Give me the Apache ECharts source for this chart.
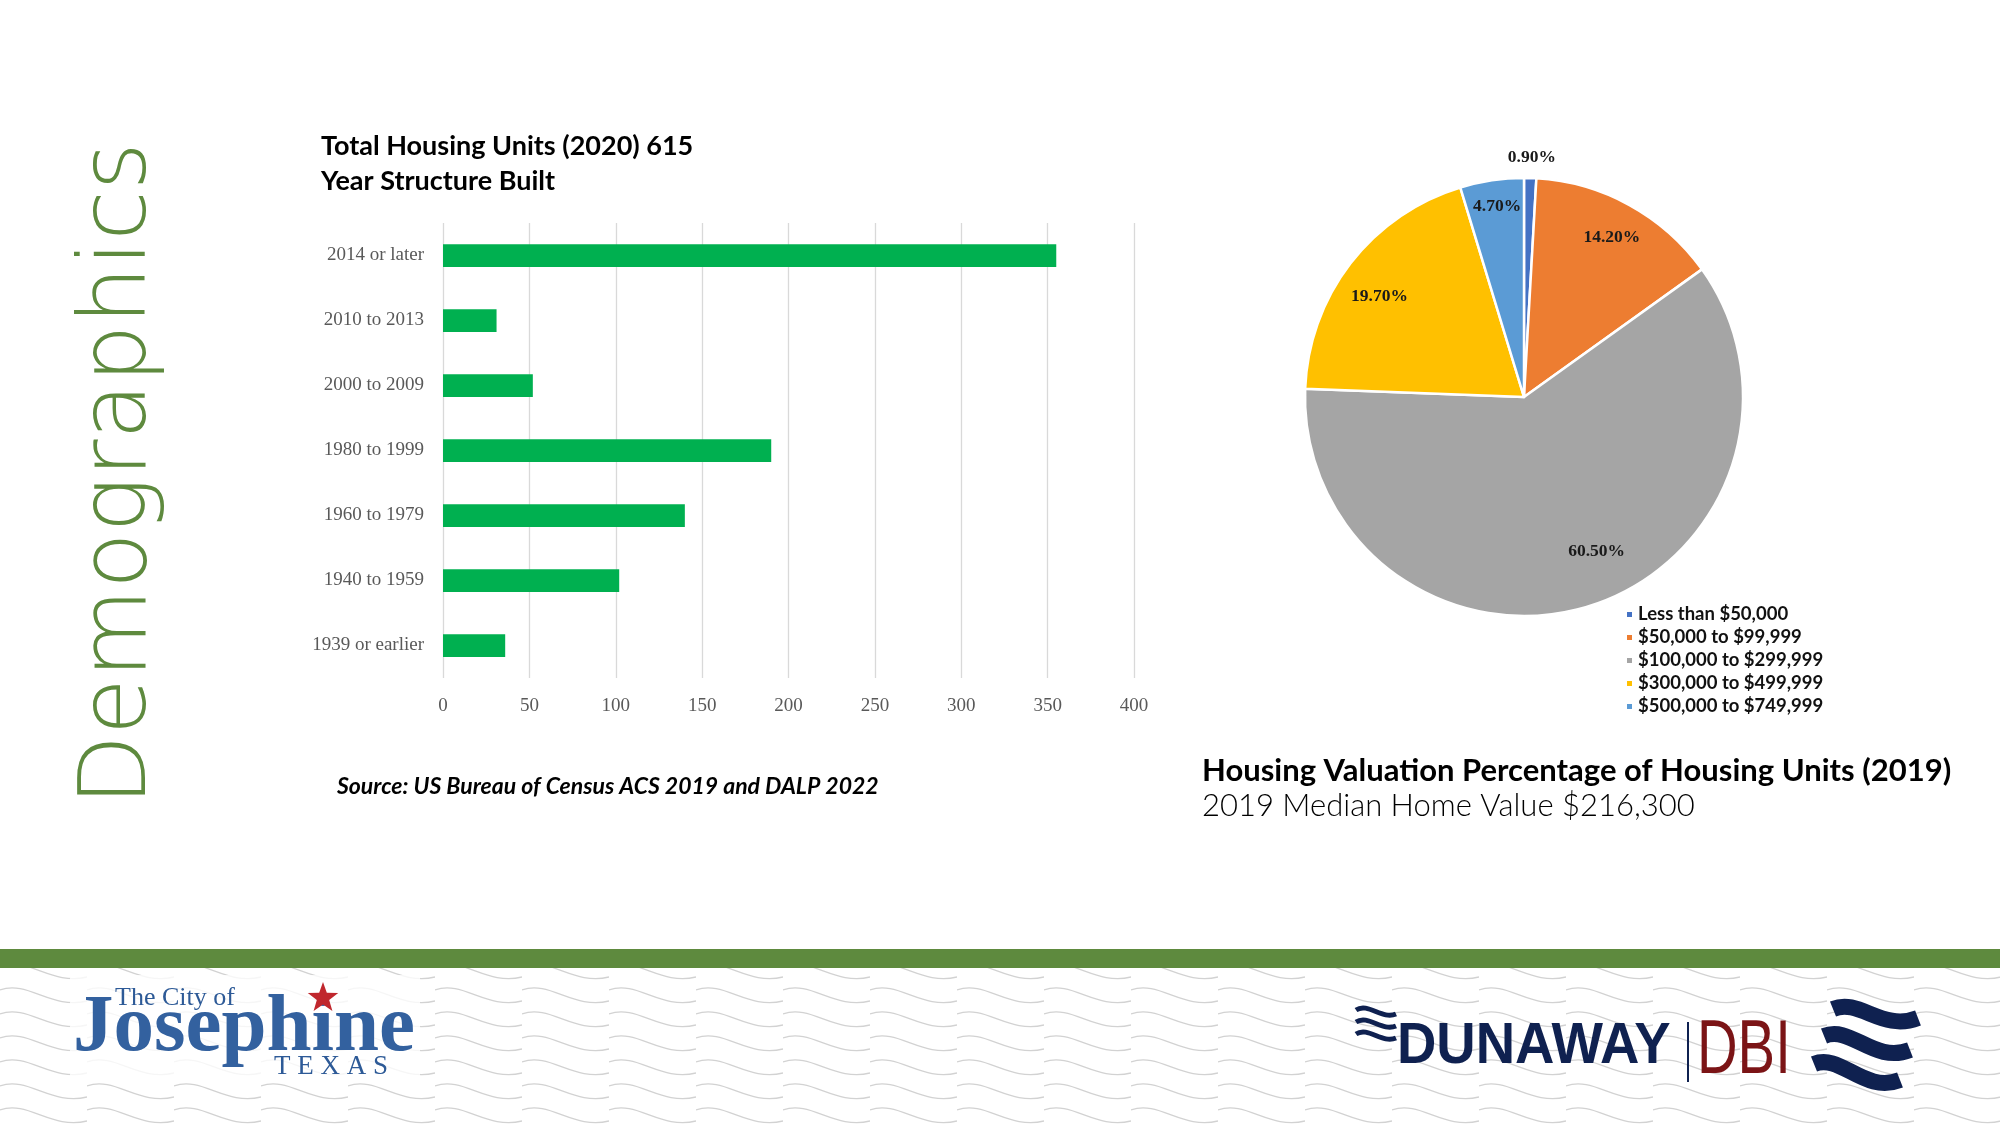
<!DOCTYPE html>
<html>
<head>
<meta charset="utf-8">
<title>Demographics</title>
<script src="https://cdn.jsdelivr.net/npm/echarts@6/dist/echarts.min.js"></script>
<style>
  html, body { margin: 0; padding: 0; background: #fff; }
  #main { width: 2000px; height: 1125px; }
</style>
</head>
<body>
<div id="main"></div>
<script>
// year structure built (housing units)
var yearCats = ['2014 or later', '2010 to 2013', '2000 to 2009', '1980 to 1999', '1960 to 1979', '1940 to 1959', '1939 or earlier']
var yearUnits = [355, 31, 52, 190, 140, 102, 36]
var unitMin = 0, unitMax = 400, unitStep = 50

// housing valuation, % of units (2019)
var valueBands = ['Less than $50,000', '$50,000 to $99,999', '$100,000 to $299,999', '$300,000 to $499,999', '$500,000 to $749,999']
var valueShares = [0.9, 14.2, 60.5, 19.7, 4.7]
var bandColors = ['#4472C4', '#ED7D31', '#A5A5A5', '#FFC000', '#5B9BD5']

var green = '#5E8A3E'
var navy = '#0F2150'

// footer wave pattern tile
var tile = document.createElement('canvas')
tile.width = 87
tile.height = 24
var g = tile.getContext('2d')
g.strokeStyle = '#d2d2d2'
g.lineWidth = 1.3
;[-24, 0, 24].forEach(function (o) {
    g.beginPath()
    g.moveTo(0, 6 + o)
    g.bezierCurveTo(28, -4 + o, 52, 26 + o, 87, 17 + o)
    g.stroke()
})

var starPoints = function (cx, cy, r1, r2) {
    var pts = []
    for (var i = 0; i < 10; i++) {
        var a = -Math.PI / 2 + i * Math.PI / 5
        var r = i % 2 ? r2 : r1
        pts.push([cx + r * Math.cos(a), cy + r * Math.sin(a)])
    }
    return pts
}

var pieMain = valueBands.map(function (n, i) {
    var item = { name: n, value: valueShares[i], itemStyle: { color: bandColors[i] } }
    if (i === 0) {
        item.label = { show: true, position: 'outside' }
        item.labelLine = { show: false, length: 21, length2: 0 }
    }
    return item
})
var pieLabels = valueBands.map(function (n, i) {
    var item = { name: n, value: valueShares[i] }
    if (i === 0) item.label = { show: false }
    return item
})
// small nudges so the inner labels sit where Excel's best fit put them
var labelNudge = [[0, 0], [0, 0], [20, -20], [0, 11], [0, -10]]

var pctLabel = {
    fontFamily: 'Liberation Serif',
    fontWeight: 'bold',
    fontSize: 17.5,
    color: '#1a1a1a',
    formatter: function (p) { return p.value.toFixed(2) + '%' }
}

var serifLabel = { fontFamily: 'Liberation Serif', fontSize: 19, color: '#595959' }

var myChart = echarts.init(document.getElementById('main'))
var options = {
    animation: false,
    grid: { left: 443, top: 223, width: 691, height: 455 },
    xAxis: {
        type: 'value',
        min: unitMin,
        max: unitMax,
        interval: unitStep,
        axisLine: { show: false },
        axisTick: { show: false },
        splitLine: { lineStyle: { color: '#d9d9d9', width: 1.3 } },
        axisLabel: Object.assign({ margin: 19 }, serifLabel)
    },
    yAxis: {
        type: 'category',
        data: yearCats,
        inverse: true,
        axisLine: { show: false },
        axisTick: { show: false },
        axisLabel: Object.assign({ margin: 19 }, serifLabel)
    },
    legend: {
        orient: 'vertical',
        left: 1620,
        top: 598,
        icon: 'rect',
        itemWidth: 7,
        itemHeight: 7,
        itemGap: 0,
        selectedMode: false,
        data: valueBands,
        textStyle: { fontFamily: 'Lato', fontWeight: 'bold', fontSize: 18.5, color: '#111', lineHeight: 23 }
    },
    series: [
        {
            name: 'Year Structure Built',
            type: 'bar',
            barWidth: '35%',
            data: yearUnits,
            itemStyle: { color: '#00B050' }
        },
        {
            name: 'Housing Valuation',
            type: 'pie',
            center: [1524, 397],
            radius: 219,
            startAngle: 90,
            itemStyle: { borderColor: '#fff', borderWidth: 2.5 },
            label: Object.assign({ show: false }, pctLabel),
            labelLine: { show: false },
            labelLayout: function (p) {
                if (p.dataIndex === 0) return { dx: -28 }
            },
            data: pieMain
        },
        {
            // transparent twin that only carries the inner labels
            name: 'labels',
            type: 'pie',
            silent: true,
            center: [1524, 397],
            radius: 359,
            startAngle: 90,
            itemStyle: { color: 'rgba(0,0,0,0)' },
            label: Object.assign({ show: true, position: 'inside' }, pctLabel),
            labelLine: { show: false },
            labelLayout: function (p) {
                var n = labelNudge[p.dataIndex]
                return { dx: n[0], dy: n[1] }
            },
            data: pieLabels
        }
    ],
    graphic: [
        {
            type: 'text', x: 121, y: 474, rotation: Math.PI / 2,
            style: { text: 'Demographics', fontFamily: 'DejaVu Sans', fontWeight: 200, fontSize: 92, fill: green, align: 'center', verticalAlign: 'middle' }
        },
        {
            type: 'text', x: 321, y: 146,
            style: { text: 'Total Housing Units (2020) 615', fontFamily: 'Lato', fontWeight: 'bold', fontSize: 27, fill: '#000', verticalAlign: 'middle' }
        },
        {
            type: 'text', x: 321, y: 181,
            style: { text: 'Year Structure Built', fontFamily: 'Lato', fontWeight: 'bold', fontSize: 27, fill: '#000', verticalAlign: 'middle' }
        },
        {
            type: 'text', x: 337, y: 787,
            style: { text: 'Source: US Bureau of Census ACS 2019 and DALP 2022', fontFamily: 'Lato', fontWeight: 'bold', fontStyle: 'italic', fontSize: 23, fill: '#000', verticalAlign: 'middle' }
        },
        {
            type: 'text', x: 1202, y: 771,
            style: { text: 'Housing Valuation Percentage of Housing Units (2019)', fontFamily: 'Lato', fontWeight: 'bold', fontSize: 31, fill: '#000', verticalAlign: 'middle' }
        },
        {
            type: 'text', x: 1202, y: 806,
            style: { text: '2019 Median Home Value $216,300', fontFamily: 'Lato', fontWeight: 300, fontSize: 31, fill: '#000', verticalAlign: 'middle' }
        },
        // footer
        { type: 'rect', shape: { x: 0, y: 949, width: 2000, height: 19 }, style: { fill: green } },
        { type: 'rect', shape: { x: 0, y: 968, width: 2000, height: 157 }, style: { fill: { image: tile, repeat: 'repeat' } } },
        { type: 'rect', shape: { x: 70, y: 975, width: 350, height: 105 }, style: { fill: 'rgba(255,255,255,0.8)' } },
        {
            type: 'text', x: 115, y: 998,
            style: { text: 'The City of', fontFamily: 'Liberation Serif', fontSize: 26, fill: '#2D5A97', verticalAlign: 'middle' }
        },
        {
            type: 'text', x: 73, y: 1029,
            style: { text: 'Josephine', fontFamily: 'Liberation Serif', fontWeight: 'bold', fontSize: 81, fill: '#33619F', verticalAlign: 'middle' }
        },
        {
            type: 'text', x: 274, y: 1067,
            style: { text: 'T E X A S', fontFamily: 'Liberation Serif', fontSize: 27, fill: '#2D5A97', verticalAlign: 'middle' }
        },
        { type: 'polygon', shape: { points: starPoints(323, 998, 16, 6.5) }, style: { fill: '#C0272D' } },
        // dunaway mark
        { type: 'bezierCurve', shape: { x1: 1356, y1: 1010, cpx1: 1368, cpy1: 1002, cpx2: 1382, cpy2: 1020, x2: 1396, y2: 1014 }, style: { stroke: navy, lineWidth: 5, fill: null } },
        { type: 'bezierCurve', shape: { x1: 1356, y1: 1022, cpx1: 1368, cpy1: 1014, cpx2: 1382, cpy2: 1032, x2: 1396, y2: 1026 }, style: { stroke: navy, lineWidth: 5, fill: null } },
        { type: 'bezierCurve', shape: { x1: 1356, y1: 1034, cpx1: 1368, cpy1: 1026, cpx2: 1382, cpy2: 1044, x2: 1396, y2: 1038 }, style: { stroke: navy, lineWidth: 5, fill: null } },
        {
            type: 'text', x: 1397, y: 1047, scaleX: 0.94,
            style: { text: 'DUNAWAY', fontFamily: 'Liberation Sans', fontWeight: 'bold', fontSize: 58, fill: navy, verticalAlign: 'middle' }
        },
        { type: 'line', shape: { x1: 1688, y1: 1022, x2: 1688, y2: 1082 }, style: { stroke: navy, lineWidth: 2 } },
        {
            type: 'text', x: 1697, y: 1052, scaleX: 0.74,
            style: { text: 'DBI', fontFamily: 'Liberation Sans', fontSize: 76, fill: '#7B1416', verticalAlign: 'middle' }
        },
        { type: 'bezierCurve', shape: { x1: 1833, y1: 1009, cpx1: 1860, cpy1: 998, cpx2: 1882, cpy2: 1032, x2: 1918, y2: 1018 }, style: { stroke: navy, lineWidth: 16, fill: null } },
        { type: 'bezierCurve', shape: { x1: 1824, y1: 1036, cpx1: 1851, cpy1: 1025, cpx2: 1874, cpy2: 1064, x2: 1910, y2: 1050 }, style: { stroke: navy, lineWidth: 16, fill: null } },
        { type: 'bezierCurve', shape: { x1: 1814, y1: 1064, cpx1: 1841, cpy1: 1053, cpx2: 1864, cpy2: 1094, x2: 1900, y2: 1080 }, style: { stroke: navy, lineWidth: 16, fill: null } }
    ]
}
myChart.setOption(options)
</script>
</body>
</html>
